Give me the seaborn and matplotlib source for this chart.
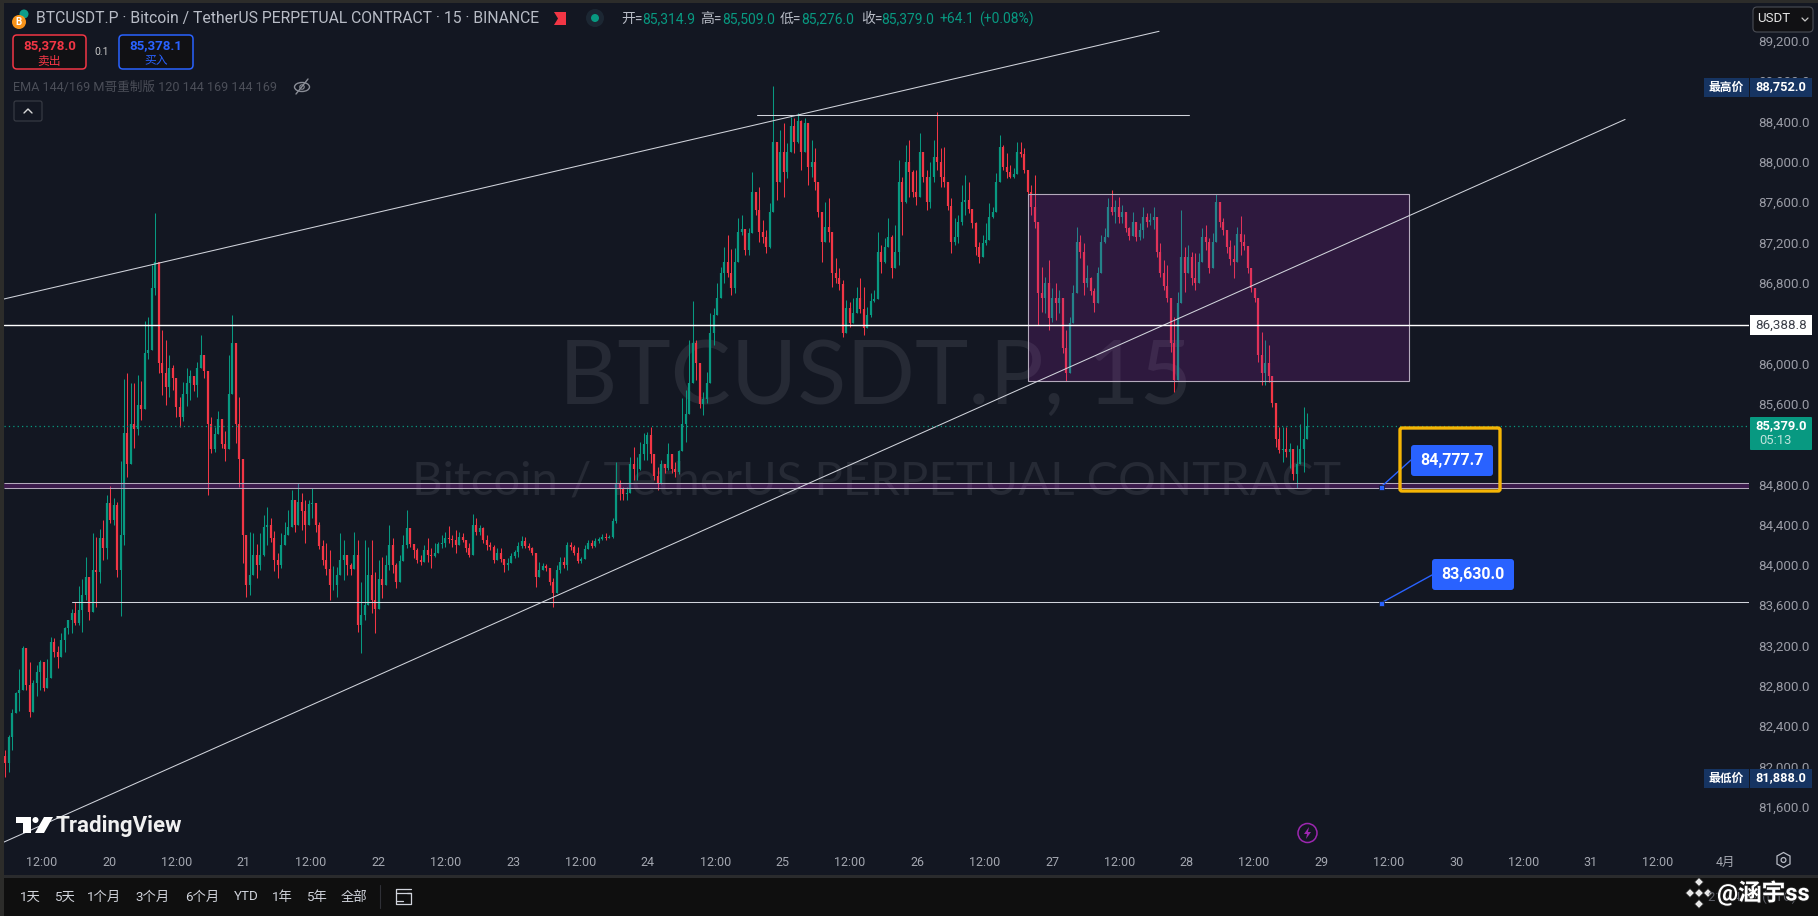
import numpy as np
import pandas as pd
import matplotlib
matplotlib.use("Agg")
import matplotlib.pyplot as plt
import matplotlib.patheffects as pe
from matplotlib.patches import Rectangle, FancyBboxPatch, Circle, Polygon, Ellipse
import seaborn as sns

# candle values (prices in USDT)
highs = [
    82165,82313,82570,82743,82968,83196,83117,83040,82859,83007,
    83057,82958,83067,83289,83272,83200,83322,83381,83454,83560,
    83636,83791,83857,84076,83801,84314,84281,84353,84446,84694,
    84783,84661,84628,85031,85844,85903,85801,85801,85884,85828,
    86420,86457,86975,87488,86836,86330,86230,86082,85983,85818,
    85669,85818,85957,85934,85844,86016,86281,86082,85900,85470,
    85371,85530,85420,85332,86082,86479,86172,85669,84843,84165,
    84324,84314,84208,84314,84496,84572,84463,84337,84115,84314,
    84429,84545,84744,84611,84810,84710,84644,84644,84760,84495,
    84429,84247,84221,84148,83989,83983,84313,84247,84065,84016,
    84330,84247,83834,84247,84181,84247,83933,84049,84082,84098,
    84396,84264,84016,84098,84297,84545,84363,84181,84165,84098,
    84198,84264,84165,84214,84231,84297,84330,84386,84297,84346,
    84330,84320,84247,84214,84505,84462,84396,84380,84297,84231,
    84198,84165,84165,84049,84065,84115,84148,84231,84287,84280,
    84214,84175,84115,84032,84016,84010,83900,83867,84000,84082,
    84082,84231,84231,84198,84181,84082,84198,84247,84247,84264,
    84280,84306,84313,84297,84462,85024,84842,84776,84776,85074,
    85173,85074,85222,85305,85321,85371,85090,84974,85041,84990,
    85206,85057,85024,85140,85652,85735,86230,86617,86230,85834,
    85718,85917,86495,86545,86793,86958,87156,87272,87130,87140,
    87437,87470,87305,87338,87900,87669,87752,87421,87322,87586,
    88752,88049,88314,88380,88182,88446,88430,88479,88413,88430,
    88231,88215,88132,87719,87487,87603,87636,87239,87041,86942,
    86826,86628,86611,86644,86760,86842,86760,86561,86694,86727,
    87305,87173,87239,87438,87272,87372,88017,87851,88165,88215,
    87917,87917,88281,88033,87917,87998,88215,88496,88132,88142,
    87752,87636,87438,87471,87769,87868,87802,87520,87405,87206,
    87272,87388,87587,87553,87884,88264,88165,88083,87967,87934,
    88198,88198,88132,87917,87769,87868,87224,86959,86860,87025,
    86744,86794,86727,86496,86331,86463,86777,87356,87273,87190,
    86976,86860,86744,86959,87273,87339,87637,87720,87620,87647,
    87571,87488,87356,87498,87372,87389,87554,87488,87488,87548,
    87356,87190,87025,86975,86595,86463,86711,87521,87157,87174,
    87108,87091,87091,87339,87372,87240,87290,87680,87554,87439,
    87323,87224,87174,87356,87461,87283,87124,86893,86744,86645,
    86315,86231,86182,85835,85603,85371,85371,85371,85206,85140,
    85190,85398,85563,85504,
]
lows = [
    81893,81949,82165,82538,82554,82875,82760,82495,82587,82700,
    82760,82753,82865,82941,83090,82974,83083,83140,83312,83322,
    83404,83404,83338,83652,83454,83547,83586,83824,84049,84056,
    84413,84396,83884,83497,84198,84875,85083,85163,85289,85437,
    85680,86043,86600,86680,85900,85685,85586,85669,85735,85470,
    85371,85431,85576,85636,85728,85662,85950,85857,84693,85107,
    85123,85371,85156,85034,85173,85818,85213,84776,84016,83679,
    83702,83917,83874,83950,84089,84198,84231,83943,83874,83967,
    84198,84330,84463,84330,84479,84346,84221,84413,84462,84330,
    84155,84000,83900,83652,83751,83685,83900,83850,83900,83900,
    83983,83338,83123,83454,83718,83520,83328,83602,83668,83884,
    83950,83917,83768,83900,84065,84165,84181,84065,84016,84000,
    84049,84032,83966,84082,84148,84165,84181,84214,84175,84115,
    84247,84230,84131,84075,84280,84297,84297,84214,84148,84148,
    84016,84049,84032,83933,83950,84032,84065,84082,84165,84165,
    84148,84098,83785,83884,83950,83940,83800,83586,83817,83917,
    83966,83950,84148,84098,84016,84016,84065,84165,84165,84181,
    84214,84247,84247,84264,84264,84413,84640,84640,84640,84710,
    84842,84842,84941,85041,85041,85007,84842,84743,84875,84908,
    84941,84908,84875,84905,85305,85222,85652,85834,85834,85553,
    85487,85603,86065,86181,86611,86776,86793,86859,86677,86694,
    87074,87272,87074,87074,87470,87470,87206,87190,87097,87140,
    87652,87620,87834,87653,87834,88165,88082,88182,87917,88198,
    87768,87851,87719,87454,87008,87206,87206,86760,86793,86727,
    86264,86396,86363,86396,86529,86495,86280,86363,86462,86611,
    86975,86899,86991,87206,86843,86958,86975,87272,87587,87653,
    87653,87570,87735,87802,87520,87537,87802,87917,87752,87752,
    87520,87091,87173,87190,87372,87471,87487,87339,87074,86991,
    87074,87173,87223,87438,87520,87917,87917,87835,87835,87835,
    87950,88050,87884,87537,87471,87339,86380,86512,86496,86330,
    86413,86430,86496,86099,85821,86099,86463,86794,87042,86678,
    86760,86678,86513,86760,87042,87190,87290,87472,87389,87389,
    87389,87306,87224,87356,87217,87224,87240,87356,87372,87329,
    87058,86860,86728,86612,86116,85719,86099,86711,86711,86926,
    86777,86728,86827,87075,87124,86893,87141,87323,87356,87273,
    87091,86975,86843,87075,87075,87124,86893,86711,86612,86017,
    85785,85785,85818,85570,85173,85107,85024,85074,84958,84842,
    84760,85074,84925,85272,
]
closes = [
    82032,82296,82528,82726,82760,83173,82809,82544,82826,82941,
    83040,82776,82875,83239,83140,83090,83256,83371,83454,83520,
    83421,83553,83702,83884,83537,83950,83934,84264,84165,84611,
    84446,84595,83950,84300,85305,85000,85400,85350,85590,85550,
    86100,86130,86750,87000,86000,85900,85760,85950,85850,85570,
    85470,85700,85800,85870,85780,85950,86080,85920,85400,85150,
    85300,85450,85200,85150,85700,86200,85400,85050,84300,83800,
    83900,84100,84000,84100,84380,84400,84270,84050,84000,84200,
    84300,84380,84640,84400,84620,84530,84400,84600,84610,84400,
    84190,84050,83960,83800,83800,83900,84050,84100,84000,83960,
    84100,83400,83500,83600,83900,83650,83560,83860,83800,84000,
    84200,84000,83830,84040,84200,84370,84210,84150,84050,84030,
    84150,84100,84090,84120,84210,84220,84270,84260,84250,84200,
    84280,84250,84170,84100,84400,84330,84370,84250,84200,84180,
    84050,84120,84060,84000,84020,84090,84130,84190,84240,84190,
    84170,84120,83880,83950,83990,83970,83830,83720,83950,84030,
    84000,84200,84180,84120,84040,84060,84160,84220,84190,84240,
    84260,84280,84270,84275,84440,84800,84750,84700,84710,85000,
    84950,84950,85100,85200,85290,85100,84880,84800,85000,84960,
    85100,84950,84920,85130,85400,85500,85800,86200,86000,85600,
    85650,85800,86300,86480,86650,86900,87000,86900,86750,87000,
    87300,87330,87120,87290,87700,87520,87300,87250,87150,87500,
    88200,87800,88100,87900,88100,88350,88200,88400,88100,88380,
    87950,88000,87800,87500,87200,87350,87300,86900,86850,86790,
    86300,86550,86400,86500,86650,86540,86350,86480,86620,86640,
    87100,87000,87150,87250,86950,87100,87800,87600,88000,87900,
    87700,87650,88100,87850,87600,87850,88050,88000,87850,87800,
    87560,87200,87250,87400,87600,87620,87530,87390,87150,87050,
    87190,87220,87450,87500,87800,88150,87950,87900,87850,87880,
    88100,88080,87920,87700,87550,87400,86700,86650,86800,86450,
    86650,86600,86650,86150,85900,86400,86700,87200,87100,86800,
    86850,86720,86600,86900,87200,87250,87550,87500,87550,87450,
    87500,87340,87260,87400,87250,87320,87450,87400,87420,87450,
    87100,86900,86770,86650,86200,85830,86600,87050,86900,87050,
    86850,86800,87000,87250,87200,86950,87200,87600,87400,87320,
    87150,87030,87000,87280,87200,87160,86950,86750,86650,86080,
    85900,86000,85870,85610,85250,85140,85150,85120,85150,84900,
    85000,85150,85250,85379,
]
first_open = 82100
first_day = 19.23
last_day = 28.894

y_ticks = list(range(81600, 89600, 400))
# these two sit fully behind the price labels on the scale
hidden_ticks = [85200, 86400]
x_ticks = [19.5 + 0.5 * i for i in range(26)]
x_labels = ["12:00", "20", "12:00", "21", "12:00", "22", "12:00", "23", "12:00", "24",
            "12:00", "25", "12:00", "26", "12:00", "27", "12:00", "28", "12:00", "29",
            "12:00", "30", "12:00", "31", "12:00", "4月"]

# drawings on the chart, day of month / price
upper_days, upper_prices = [19.22, 27.795], [86638, 89293]
lower_days, lower_prices = [19.22, 31.255], [81251, 88419]
peak_days, peak_prices = [24.813, 28.02], [88460, 88460]
support_days, support_prices = [19.725, 32.175], [83630, 83630]
box_days, box_prices = [26.825, 29.648], [85821, 87683]
band_prices = [84760, 84810]
level_price = 86380
last_price = 85379.0

BG = "#131722"
UP = "#089981"
DOWN = "#f23645"
LINE = "#d1d4dc"
LILAC = "#b4aabc"
BLUE = "#2962ff"
NAVY = "#163462"
DIM = "#9a9ca6"

sns.set_theme(style="dark", rc={"axes.facecolor": BG, "figure.facecolor": "#2c2c2a"})
plt.rcParams["font.family"] = ["Roboto", "Noto Sans CJK SC", "DejaVu Sans"]

# build candles
closes_arr = np.array(closes, dtype=float)
opens_arr = np.concatenate([[first_open], closes_arr[:-1]])
days = np.linspace(first_day, last_day, len(closes))
candles = pd.DataFrame({"candle": np.arange(len(closes)), "day": days, "open": opens_arr,
                        "high": highs, "low": lows, "close": closes_arr})
candles["high"] = candles[["high", "open", "close"]].max(axis=1)
candles["low"] = candles[["low", "open", "close"]].min(axis=1)
candles["dir"] = np.where(candles["close"] >= candles["open"], "up", "down")
wicks = candles.melt(id_vars=["candle", "day", "dir"], value_vars=["high", "low"], value_name="price")
bodies = candles.melt(id_vars=["candle", "day", "dir"], value_vars=["open", "close"], value_name="price")

fig = plt.figure(figsize=(18.18, 9.16), dpi=100)
fig.add_artist(Rectangle((4 / 1818, 0), 1, 913 / 916, transform=fig.transFigure,
                         facecolor=BG, edgecolor="none", zorder=-1))
ax = fig.add_axes([4 / 1818, (916 - 849) / 916, (1749 - 4) / 1818, (849 - 3) / 916])
ax.set_xlim(19.22, 32.175)
ax.set_ylim(81182, 89574)
for s in ax.spines.values():
    s.set_visible(False)
ax.grid(False)

# watermark
ax.text(25.687, 85845, "BTCUSDT.P, 15", fontsize=65, color="#262a35", ha="center", va="center",
        family="Lato", zorder=1)
ax.text(25.70, 84830, "Bitcoin / TetherUS PERPETUAL CONTRACT", fontsize=34, color="#262a35",
        ha="center", va="center", family="Lato", zorder=1)

palette = {"up": UP, "down": DOWN}
sns.lineplot(data=wicks, x="day", y="price", hue="dir", units="candle", estimator=None, palette=palette,
             linewidth=0.75, legend=False, ax=ax, sort=False, zorder=3, solid_capstyle="butt")
sns.lineplot(data=bodies, x="day", y="price", hue="dir", units="candle", estimator=None, palette=palette,
             linewidth=1.6, legend=False, ax=ax, sort=False, zorder=3, solid_capstyle="butt")

# purple zones
ax.axhspan(band_prices[0], band_prices[1], color="#9c27b0", alpha=0.3, lw=0, zorder=4)
ax.hlines(band_prices, 19.22, 32.175, color=LILAC, lw=0.75, zorder=5)
ax.add_patch(Rectangle((box_days[0], box_prices[0]), box_days[1] - box_days[0], box_prices[1] - box_prices[0],
                       facecolor=(0.61, 0.15, 0.69, 0.2), edgecolor=LILAC, lw=0.8, zorder=4))

# drawn lines
for dd, pp in [(upper_days, upper_prices), (lower_days, lower_prices), (peak_days, peak_prices),
               (support_days, support_prices)]:
    sns.lineplot(x=dd, y=pp, color=LINE, linewidth=0.75, ax=ax, zorder=5, legend=False)
ax.axhline(level_price, color="white", lw=1.0, zorder=5)
ax.axhline(last_price, color=UP, lw=0.9, ls=(0, (1, 2.5)), zorder=5)

ax.set_xlabel("")
ax.set_ylabel("")
ax.set_xticks(x_ticks)
ax.set_xticklabels(x_labels)
ax.set_yticks(y_ticks)
ax.set_yticklabels(["" if v in hidden_ticks else f"{v:,.1f}" for v in y_ticks])
ax.yaxis.tick_right()
ax.tick_params(axis="y", length=0, pad=6.5, labelsize=9.6, labelcolor=DIM)
ax.tick_params(axis="x", length=0, pad=5, labelsize=9, labelcolor="#a4a7b0")

# interface chrome on a pixel overlay
ui = fig.add_axes([0, 0, 1, 1], zorder=10)
ui.set_xlim(0, 1818)
ui.set_ylim(916, 0)
ui.axis("off")


def box(x0, y0, x1, y1, fc, ec="none", lw=1.0, r=2.0, z=2):
    ui.add_patch(FancyBboxPatch((x0 + r, y0 + r), x1 - x0 - 2 * r, y1 - y0 - 2 * r,
                                boxstyle=f"round,pad={r},rounding_size={r}", fc=fc, ec=ec, lw=lw, zorder=z))


def label(x, y, s, color="white", size=10, ha="left", weight="normal", **kw):
    return ui.text(x, y, s, color=color, fontsize=size, ha=ha, va="center", fontweight=weight, **kw)


# title row
ui.add_patch(Circle((24, 14), 4.5, fc="#0f9d8a", ec="none"))
ui.add_patch(Circle((19, 22), 7, fc="#f7931a", ec="none"))
label(19, 22, "B", size=7, ha="center", weight="bold")
label(36, 19, "BTCUSDT.P · Bitcoin / TetherUS PERPETUAL CONTRACT · 15 · BINANCE", color="#b8bcc6", size=11.3)
ui.add_patch(Polygon([(554, 12), (566, 12), (566, 25), (554, 25), (558, 18.5)], fc=DOWN, ec="none"))
ui.add_patch(Circle((595, 18), 9, fc="#1c2733", ec="none"))
ui.add_patch(Circle((595, 18), 4, fc=UP, ec="none"))
for x, s, c in [(621, "开=", "#b8bcc6"), (642, "85,314.9", UP), (700, "高=", "#b8bcc6"), (722, "85,509.0", UP),
                (780, "低=", "#b8bcc6"), (801, "85,276.0", UP), (861, "收=", "#b8bcc6"), (881, "85,379.0", UP),
                (939, "+64.1", UP), (979, "(+0.08%)", UP)]:
    label(x, 19, s, color=c, size=10)

# buy / sell buttons
box(13, 35, 86, 69, "#111114", ec=DOWN, lw=1.1, r=4)
label(49.5, 46, "85,378.0", color=DOWN, size=9.6, ha="center", weight="bold")
label(49.5, 61, "卖出", color=DOWN, size=8.5, ha="center")
label(102, 52, "0.1", color="#c8c8c8", size=7.5, ha="center")
box(119, 35, 193, 69, "#111114", ec=BLUE, lw=1.1, r=4)
label(156, 46, "85,378.1", color=BLUE, size=9.6, ha="center", weight="bold")
label(156, 61, "买入", color=BLUE, size=8.5, ha="center")
label(13, 87, "EMA 144/169 M哥重制版 120 144 169 144 169", color="#4b4e58", size=9.1)
ui.add_patch(Ellipse((302, 87), 15, 9, fc="none", ec="#8a8d96", lw=1))
ui.add_patch(Circle((302, 87), 2.2, fc="none", ec="#8a8d96", lw=0.8))
ui.plot([296, 308], [94, 79], color="#8a8d96", lw=1)
box(14, 101, 42, 121, BG, ec="#3a3d46", lw=0.8, r=2)
ui.plot([24, 28, 32], [113, 109, 113], color="#d8d8d8", lw=1)

# price scale labels
box(1753, 7, 1813, 32, "#111114", ec="#4a4d55", lw=0.8, r=4)
label(1757, 19, "USDT", color="#e6e6e6", size=9.5)
ui.plot([1802, 1805, 1808], [18, 21, 18], color="#c8c8c8", lw=0.9)
for y, name, val in [(87, "最高价", "88,752.0"), (778, "最低价", "81,888.0")]:
    ui.add_patch(Rectangle((1704, y - 9.5), 45, 19, fc=NAVY, ec="none", zorder=2))
    ui.add_patch(Rectangle((1750, y - 9.5), 62, 19, fc=NAVY, ec="none", zorder=2))
    label(1726.5, y, name, size=8.5, ha="center", weight="bold", zorder=3)
    label(1781, y, val, size=9.2, ha="center", weight="bold", zorder=3)
ui.add_patch(Rectangle((1750, 315), 62, 20, fc="white", ec="none", zorder=2))
label(1781, 325, "86,388.8", color="#3c3f48", size=9.6, ha="center", zorder=3)
box(1750, 417, 1812, 450, UP, r=1)
label(1781, 426, "85,379.0", size=9.4, ha="center", weight="bold", zorder=3)
label(1759, 440, "05:13", color="#bfe3dc", size=9.4, zorder=3)

# callouts
ui.plot([1381, 1411], [487, 460], color=BLUE, lw=1, zorder=3)
ui.plot([1381, 1432], [603, 575], color=BLUE, lw=1, zorder=3)
for y in (487, 603):
    ui.add_patch(Rectangle((1378.5, y - 2.5), 5, 5, fc=BLUE, ec=BG, lw=0.5, zorder=4))
box(1411, 445, 1493, 476, BLUE, r=3, z=3)
label(1452, 460.5, "84,777.7", size=11.5, ha="center", weight="bold", zorder=4)
box(1432, 559, 1514, 590, BLUE, r=3, z=3)
label(1473, 574.5, "83,630.0", size=11.5, ha="center", weight="bold", zorder=4)
box(1400, 428, 1500, 491, "none", ec="#f5b505", lw=2.4, r=2, z=5)

# logo and marks in the pane
ui.add_patch(Polygon([(16, 817), (31, 817), (31, 833), (23, 833), (23, 823), (16, 823)], fc="white", ec="none"))
ui.add_patch(Circle((35.5, 820), 3, fc="white", ec="none"))
ui.add_patch(Polygon([(44, 817), (53, 817), (44, 833), (35, 833)], fc="white", ec="none"))
label(56, 826, "TradingView", size=16, weight="bold", color="#f0f0f0")
ui.add_patch(Circle((1307.5, 833), 9.5, fc="none", ec="#9c27b0", lw=1.1))
ui.add_patch(Polygon([(1309, 827), (1304, 834), (1307, 834), (1306, 839), (1311, 832), (1308, 832)],
                     fc="#9c27b0", ec="none"))
ui.add_patch(Polygon([(1783.5, 852.5), (1790, 856), (1790, 864), (1783.5, 867.5), (1777, 864), (1777, 856)],
                     fc="none", ec="#b8bcc6", lw=0.9))
ui.add_patch(Circle((1783.5, 860), 2.4, fc="none", ec="#b8bcc6", lw=0.9))

# bottom toolbar
ui.add_patch(Rectangle((4, 875), 1814, 3, fc="#2a2b2d", ec="none"))
ui.add_patch(Rectangle((4, 878), 1814, 38, fc="#0f0f0f", ec="none"))
for x, s in [(30, "1天"), (64, "5天"), (104.5, "1个月"), (153, "3个月"), (202, "6个月"), (246, "YTD"),
             (282, "1年"), (316, "5年"), (354, "全部")]:
    label(x, 897, s, color="#d1d4dc", size=9.6, ha="center")
ui.plot([379.5, 379.5], [885, 908], color="#2f3036", lw=0.8)
ui.plot([411, 396, 396, 411, 411, 407], [889, 889, 904, 904, 893, 893], color="#d1d4dc", lw=0.9)
ui.plot([396, 411], [893, 893], color="#d1d4dc", lw=0.9)
ui.plot([396, 403], [901, 901], color="#d1d4dc", lw=0.9)
label(1708, 897, "21:44:47 (UTC)", color="#5e6068", size=9.5)

# site watermark, bottom right
for cx, cy in [(1699, 882), (1690, 893), (1708, 893), (1699, 893), (1699, 904)]:
    ui.add_patch(Polygon([(cx, cy - 4.5), (cx + 4.5, cy), (cx, cy + 4.5), (cx - 4.5, cy)], fc="#e8e8e8",
                         ec="#111111", lw=0.5))
t = label(1717, 893, "@涵宇ss", size=17, weight="bold", color="white")
t.set_path_effects([pe.withStroke(linewidth=1.2, foreground="#222222")])

fig.savefig("out.png", dpi=100, facecolor=fig.get_facecolor())
